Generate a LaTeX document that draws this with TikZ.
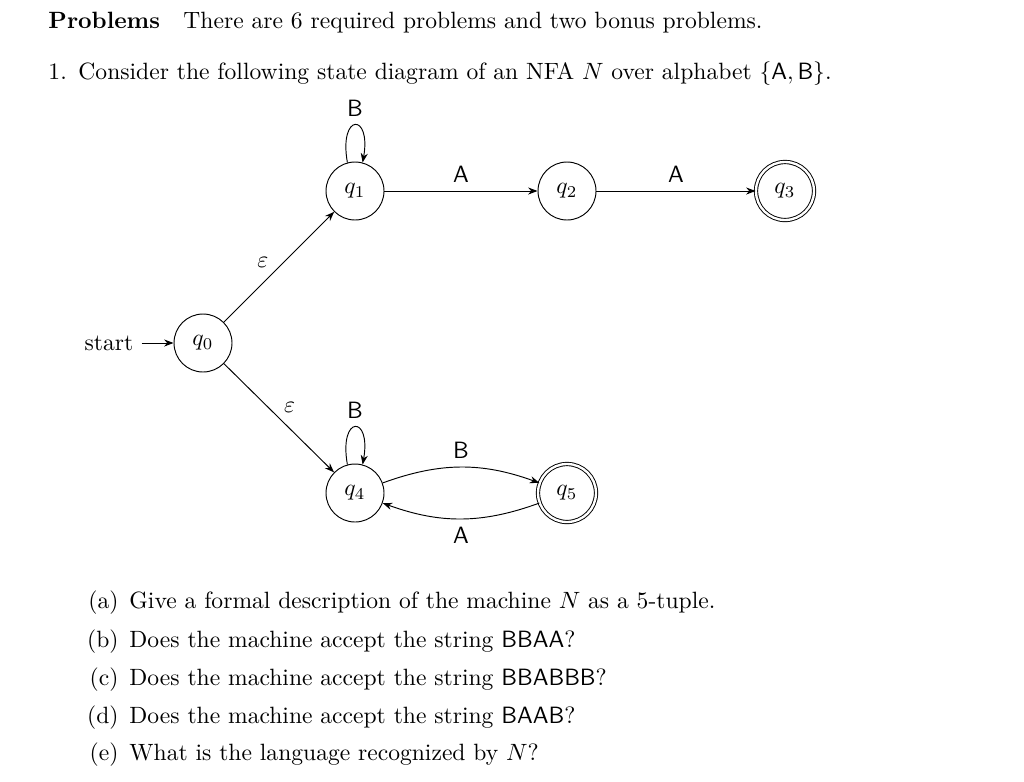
\documentclass[tikz,border=0pt]{standalone}
\usetikzlibrary{arrows.meta}
\begin{document}
\begin{tikzpicture}[x=0.4242pt,y=-0.4242pt,
  st/.style={circle,draw,line width=0.4pt,minimum size=24.6pt,inner sep=0pt},
  acc/.style={st,double,double distance=1pt},
  arr/.style={-{Stealth[length=4pt,width=3pt]},line width=0.4pt},
  lbl/.style={inner sep=2pt},
  txt/.style={anchor=base west,inner sep=0pt},
  itm/.style={anchor=base east,inner sep=0pt}]
\useasboundingbox (0,0) rectangle (1024,781);
% header text
\node[txt] (h1) at (48,28) {\textbf{Problems}};
\node[txt] (h2) at (183,28) {There are 6 required problems and two bonus problems.};
\node[txt] (p1) at (48,79) {1.};
\node[txt] (p1t) at (78,79) {Consider the following state diagram of an NFA $N$ over alphabet $\{\mathsf{A},\mathsf{B}\}$.};
% states
\node[st] (q0) at (203,343) {$q_0$};
\node[st] (q1) at (355,191) {$q_1$};
\node[st] (q2) at (567,191) {$q_2$};
\node[acc] (q3) at (785,191) {$q_3$};
\node[st] (q4) at (355,493) {$q_4$};
\node[acc] (q5) at (567,493) {$q_5$};
\node[inner sep=3.33pt] (start) at (109,343) {start};
% edges
\draw[arr] (start) -- (q0);
\draw[arr] (q0) -- node[lbl,pos=0.45,above left] {$\varepsilon$} (q1);
\draw[arr] (q0) -- node[lbl,pos=0.5,above right] {$\varepsilon$} (q4);
\draw[arr] (q1) -- node[above] {$\mathsf{A}$} (q2);
\draw[arr] (q2) -- node[above] {$\mathsf{A}$} (q3);
\draw[arr] (q1.105) .. controls +(100:21.5pt) and +(80:21.5pt) .. node[above] {$\mathsf{B}$} (q1.75);
\draw[arr] (q4.105) .. controls +(100:21.5pt) and +(80:21.5pt) .. node[above] {$\mathsf{B}$} (q4.75);
\draw[arr] (q4) to[bend left=20] node[above] {$\mathsf{B}$} (q5);
\draw[arr] (q5) to[bend left=20] node[below] {$\mathsf{A}$} (q4);
% questions
\node[itm] (la) at (119,608) {(a)};
\node[txt] (ta) at (129,608) {Give a formal description of the machine $N$ as a 5-tuple.};
\node[itm] (lb) at (119,647.5) {(b)};
\node[txt] (tb) at (129,647.5) {Does the machine accept the string \textsf{BBAA}?};
\node[itm] (lc) at (119,685.5) {(c)};
\node[txt] (tc) at (129,685.5) {Does the machine accept the string \textsf{BBABBB}?};
\node[itm] (ld) at (119,723) {(d)};
\node[txt] (td) at (129,723) {Does the machine accept the string \textsf{BAAB}?};
\node[itm] (le) at (119,760) {(e)};
\node[txt] (te) at (129,760) {What is the language recognized by $N$?};
\end{tikzpicture}
\end{document}
